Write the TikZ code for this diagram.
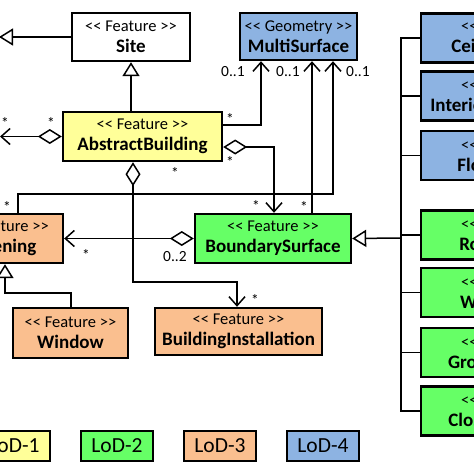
\documentclass[tikz,border=0pt]{standalone}
\usepackage{fontspec}
\setmainfont{Carlito}
\usetikzlibrary{arrows.meta}

\definecolor{lodyel}{HTML}{FFFF99}
\definecolor{lodgreen}{HTML}{66FF66}
\definecolor{lodorange}{HTML}{FABF8F}
\definecolor{lodblue}{HTML}{8DB3E2}

\newcommand{\stereo}[1]{<{}< #1 >{}>}
\newcommand{\clsname}[1]{{\fontsize{19}{21}\selectfont\bfseries #1}}

\tikzset{
  cls/.style={draw, line width=2.4pt, align=center, inner sep=0pt, font=\fontsize{16.5}{21}\selectfont},
  lodkey/.style={draw, line width=1.5pt, minimum width=72pt, minimum height=30pt, inner sep=0pt, font=\fontsize{21.5}{24}\selectfont},
  mult/.style={inner sep=0pt, font=\fontsize{15.5}{18}\selectfont},
  line/.style={line width=1.5pt},
  gen/.style={line, -{Triangle[open, length=14pt, width=17pt]}},
  assoc/.style={line, -{Straight Barb[length=9pt, width=16pt]}},
  aggr/.style={line, {Diamond[open, length=24pt, width=15pt]}-{Straight Barb[length=9pt, width=16pt]}}
}

\begin{document}
\begin{tikzpicture}[x=1pt, y=-1pt]
		\useasboundingbox (0,0) rectangle (474,474);
		\clip (0,0) rectangle (474,474);
		% Classes
		\node[cls, minimum width=118pt, minimum height=48pt] (site) at (131,37) {\stereo{Feature}\\\clsname{Site}};
		\node[cls, fill=lodblue, minimum width=117pt, minimum height=47pt] (multi) at (298.5,36.5) {\stereo{Geometry}\\\clsname{MultiSurface}};
		\node[cls, fill=lodyel, minimum width=159pt, minimum height=49pt] (ab) at (142.5,136.5) {\stereo{Feature}\\\clsname{AbstractBuilding}};
		\node[cls, fill=lodgreen, minimum width=156pt, minimum height=49pt] (bs) at (273,238.5) {\stereo{Feature}\\\clsname{BoundarySurface}};
		\node[cls, fill=lodorange, minimum width=120pt, minimum height=49pt] (opening) at (3,238.5) {\stereo{Feature}\\\clsname{Opening}};
		\node[cls, fill=lodorange, minimum width=115pt, minimum height=50pt] (window) at (70.5,333) {\stereo{Feature}\\\clsname{Window}};
		\node[cls, fill=lodorange, minimum width=167pt, minimum height=47pt] (inst) at (238.5,331.5) {\stereo{Feature}\\\clsname{BuildingInstallation}};
		% Surface types on the right
		\foreach \n/\y/\c/\t in {ceil/38/lodblue/CeilingSurface, inter/96/lodblue/InteriorWallSurface,
		    floor/155.5/lodblue/FloorSurface, roof/235/lodgreen/RoofSurface, wall/292.5/lodgreen/WallSurface,
		    ground/352.5/lodgreen/GroundSurface, closure/411/lodgreen/ClosureSurface}
		  \node[cls, fill=\c, minimum width=172pt, minimum height=49pt] (\n) at (507,\y) {\stereo{Feature}\\\clsname{\t}};
		% Legend
		\foreach \i/\c/\x in {1/lodyel/14, 2/lodgreen/117, 3/lodorange/220, 4/lodblue/323}
		  \node[lodkey, fill=\c] (lod\i) at (\x,446) {LoD-\i};
		% Generalizations
		\draw[gen] (site.west) -- (site.west -| -1,0);
		\draw[gen] (ab.north -| 131,0) -- (site.south);
		\draw[gen] (window.north -| 71,0) |- (5,293) -- (opening.south -| 5,0);
		\coordinate (trunk) at (401,238);
		\draw[gen] (trunk) -- (bs.east);
		\foreach \n in {ceil,inter,floor,roof,wall,ground,closure}
		  \draw[line] (\n.west) -| (trunk);
		% Associations and aggregations
		\draw[aggr] (ab.west) -- (ab.west -| 0,0);
		\draw[assoc] (ab.east |- 0,125) -| (multi.south -| 261,0);
		\draw[aggr] (ab.east |- 0,147) -| (bs.north -| 274,0);
		\draw[aggr] (ab.south -| 133,0) |- (237,282) -- (inst.north -| 237,0);
		\draw[aggr] (bs.west) -- (opening.east);
		\draw[assoc] (bs.north -| 312,0) -- (multi.south -| 312,0);
		\draw[assoc] (opening.north -| 18,0) |- (333,194) -- (multi.south -| 333,0);
		% Multiplicities
		\node[mult] (m1) at (233,72) {0..1};
		\node[mult] (m2) at (288,72) {0..1};
		\node[mult] (m3) at (358,72) {0..1};
		\node[mult] (m4) at (5,123) {*};
		\node[mult] (m5) at (51,123) {*};
		\node[mult] (m6) at (230,119) {*};
		\node[mult] (m7) at (230,162) {*};
		\node[mult] (m8) at (175,173) {*};
		\node[mult] (m9) at (256,206) {*};
		\node[mult] (m10) at (304,207) {*};
		\node[mult] (m11) at (7,207) {*};
		\node[mult] (m12) at (86,255) {*};
		\node[mult] (m13) at (175,257) {0..2};
		\node[mult] (m14) at (255,300) {*};
	\end{tikzpicture}
\end{document}
